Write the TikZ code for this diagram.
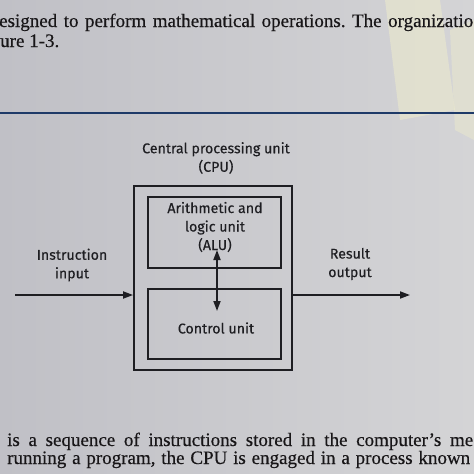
\documentclass[tikz,border=0pt]{standalone}
\usepackage{fontspec}
\setmainfont[FakeBold=0.4]{Liberation Serif}
\newfontfamily\diafont[FakeBold=0.3]{Fira Sans}
\usetikzlibrary{arrows.meta,positioning}
\definecolor{cPage}{RGB}{192,192,198}
\definecolor{cPageLt}{RGB}{212,212,214}
\definecolor{cGlare}{RGB}{238,236,204}
\definecolor{cInk} {RGB}{30,30,34}
\definecolor{cBody}{RGB}{24,22,24}
\definecolor{cRule}{RGB}{30,58,104}
\newcommand{\spreadline}[2]{\makebox[#1][s]{#2}}
\frenchspacing
\tikzset{
  body/.style  ={anchor=base west,inner sep=0pt,text=cBody,
                 font=\fontsize{19}{20}\selectfont},
  lbl/.style   ={align=center,inner sep=0pt,text=cInk,
                 font=\diafont\fontsize{14.2}{18.5}\selectfont},
  cpubox/.style={draw=cInk,line width=1.8pt,minimum width=158pt,
                 minimum height=184pt,inner sep=0pt},
  unitbox/.style={draw=cInk,line width=1.6pt,minimum width=133pt,
                 minimum height=71pt,inner sep=0pt},
  flow/.style  ={-{Triangle[length=10pt,width=7pt]},draw=cInk,line width=1.7pt},
  both/.style  ={flow,{Triangle[length=10pt,width=7pt]}-{Triangle[length=10pt,width=7pt]}},
}

\begin{document}
\begin{tikzpicture}[x=1pt,y=-1pt]
\useasboundingbox (0,0) rectangle (474,474);
\clip (0,0) rectangle (474,474);
\shade[left color=cPage,right color=cPageLt] (0,0) rectangle (474,474);
% light falling on the upper right of the page
\fill[cGlare,opacity=0.55] (385,0) -- (440,0) -- (455,110) -- (400,120) -- cycle;
\fill[cGlare,opacity=0.45] (450,30) -- (474,20) -- (474,140) -- (455,130) -- cycle;

% page text above and below the figure
\node[body] (txtA) at (-1,27) {\spreadline{474pt}{esigned to perform mathematical operations. The organizatio}};
\node[body] (txtB) at (0,47) {ure 1-3.};
\draw[cRule,line width=2.6pt] (0,113) -- (474,113);
\node[body] (txtC) at (7,446) {\spreadline{466pt}{is a sequence of instructions stored in the computer's me}};
\node[body] (txtD) at (7,464) {\spreadline{463pt}{running a program, the CPU is engaged in a process known}};

% the figure
\def\yF{295}    % level of the input and output arrows
\node[lbl] (cpuT) at (216,158) {Central processing unit\\(CPU)};
\node[cpubox] (cpu) at (213,278) {};
\node[unitbox] (alu) at (214.5,232.5) {};
\node[unitbox,minimum height=70pt] (ctl) at (214.5,324) {};
\node[lbl] (aluT) at (215,227) {Arithmetic and\\logic unit\\(ALU)};
\node[lbl] (ctlT) at (216,328) {Control unit};
\coordinate (aluTip) at (217,250);
\coordinate (ctlTip) at (217,311);
\draw[both] (aluTip) -- (ctlTip);

\node[lbl] (inT)  at (72,265)  {Instruction\\input};
\node[lbl] (outT) at (350,264) {Result\\output};
\coordinate (inS)  at (15,\yF);
\coordinate (outE) at (410,\yF);
\draw[flow] (inS) -- (inS -| cpu.west);
\draw[flow] (cpu.east |- outE) -- (outE);
\end{tikzpicture}
\end{document}
